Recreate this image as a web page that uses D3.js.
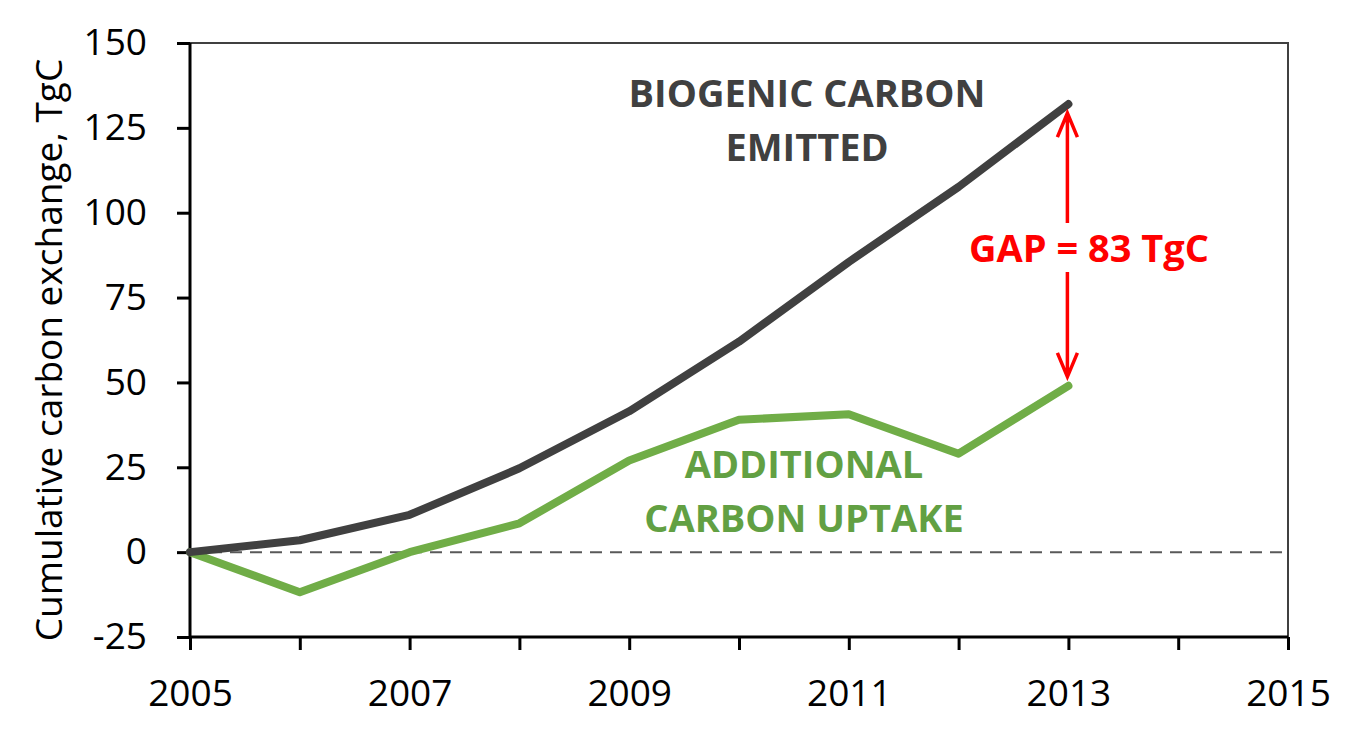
<!DOCTYPE html>
<html>
<head>
<meta charset="utf-8">
<title>Cumulative carbon exchange</title>
<script src="https://d3js.org/d3.v7.min.js"></script>
<style>
  body { margin: 0; background: #fff; }
  text { font-family: "Open Sans", Lato, sans-serif; }
</style>
</head>
<body>
<div id="chart"></div>
<script>
// data
const years = [2005, 2006, 2007, 2008, 2009, 2010, 2011, 2012, 2013];
const emitted = [0, 3.5, 11, 24.7, 41.5, 62, 85.5, 107.6, 132];
const uptake = [0, -11.8, 0, 8.5, 27, 39, 40.6, 29, 49];
const yTicks = [-25, 0, 25, 50, 75, 100, 125, 150];
const xTicks = [2005, 2006, 2007, 2008, 2009, 2010, 2011, 2012, 2013, 2014, 2015];
const xLabels = [2005, 2007, 2009, 2011, 2013, 2015];

const W = 1364, H = 736;
const margin = {top: 43, right: 76, bottom: 99, left: 190};

const svg = d3.select("#chart").append("svg")
    .attr("width", W).attr("height", H);

const x = d3.scaleLinear().domain([2005, 2015]).range([margin.left, W - margin.right]);
const y = d3.scaleLinear().domain([-25, 150]).range([H - margin.bottom, margin.top]);

// frame top/right (thin grey)
svg.append("path")
    .attr("d", `M${x(2005)},${y(150)}H${x(2015)}V${y(-25)}`)
    .attr("fill", "none").attr("stroke", "#404040").attr("stroke-width", 2);

// zero dashed line
svg.append("line")
    .attr("x1", x(2005)).attr("x2", x(2015))
    .attr("y1", y(0)).attr("y2", y(0))
    .attr("stroke", "#595959").attr("stroke-width", 2)
    .attr("stroke-dasharray", "12,8");

// axes
const yAxis = svg.append("g")
    .attr("transform", `translate(${x(2005)},0)`)
    .call(d3.axisLeft(y).tickValues(yTicks).tickSize(13).tickPadding(30).tickFormat(d => String(d)));
const xAxis = svg.append("g")
    .attr("transform", `translate(0,${y(-25)})`)
    .call(d3.axisBottom(x).tickValues(xTicks).tickSize(13).tickPadding(30)
        .tickFormat(d => xLabels.includes(d) ? d : ""));

[yAxis, xAxis].forEach(g => {
    g.select(".domain").attr("stroke", "#000").attr("stroke-width", 3);
    g.selectAll(".tick line").attr("stroke", "#000").attr("stroke-width", 3);
    g.selectAll(".tick text").attr("fill", "#000").attr("font-size", 37)
        .style("font-family", "'Open Sans', Lato, sans-serif");
});
yAxis.select(".domain").attr("d", `M0,${y(-25)}V${y(150)}`);
xAxis.select(".domain").attr("d", `M${x(2005)},0H${x(2015)}`);

// y axis title
svg.append("text")
    .attr("transform", `translate(62,350) rotate(-90)`)
    .attr("text-anchor", "middle")
    .attr("font-size", 37)
    .attr("fill", "#000")
    .text("Cumulative carbon exchange, TgC");

// lines
const line = d3.line().x((d, i) => x(years[i])).y(d => y(d));
svg.append("path").datum(uptake)
    .attr("d", line).attr("fill", "none")
    .attr("stroke", "#70ad47").attr("stroke-width", 8)
    .attr("stroke-linejoin", "round").attr("stroke-linecap", "round");
svg.append("path").datum(emitted)
    .attr("d", line).attr("fill", "none")
    .attr("stroke", "#404040").attr("stroke-width", 8)
    .attr("stroke-linejoin", "round").attr("stroke-linecap", "round");

// gap arrow
const last = years.length - 1;
const ax = x(years[last]) - 1;
const arrTop = y(emitted[last]) + 9, arrBot = y(uptake[last]) - 9;
const red = "#ff0000";
svg.append("path")
    .attr("d", `M${ax},${arrTop}V223M${ax},272V${arrBot}` +
        `M${ax - 10},${arrTop + 24}L${ax},${arrTop}L${ax + 10},${arrTop + 24}` +
        `M${ax - 10},${arrBot - 24}L${ax},${arrBot}L${ax + 10},${arrBot - 24}`)
    .attr("fill", "none").attr("stroke", red).attr("stroke-width", 3.5);
svg.append("text")
    .attr("x", 1089).attr("y", 262)
    .attr("text-anchor", "middle")
    .attr("font-size", 38).attr("font-weight", "bold").attr("fill", red)
    .text("GAP = " + Math.round(emitted[last] - uptake[last]) + " TgC");

// series labels
function label(lines, cx, y0, color) {
    lines.forEach((t, i) => {
        svg.append("text")
            .attr("x", cx).attr("y", y0 + i * 54)
            .attr("text-anchor", "middle")
            .attr("font-size", 38).attr("font-weight", "bold").attr("fill", color)
            .text(t);
    });
}
label(["BIOGENIC CARBON", "EMITTED"], 807, 107, "#404040");
label(["ADDITIONAL", "CARBON UPTAKE"], 804, 478, "#62a043");
</script>
</body>
</html>
